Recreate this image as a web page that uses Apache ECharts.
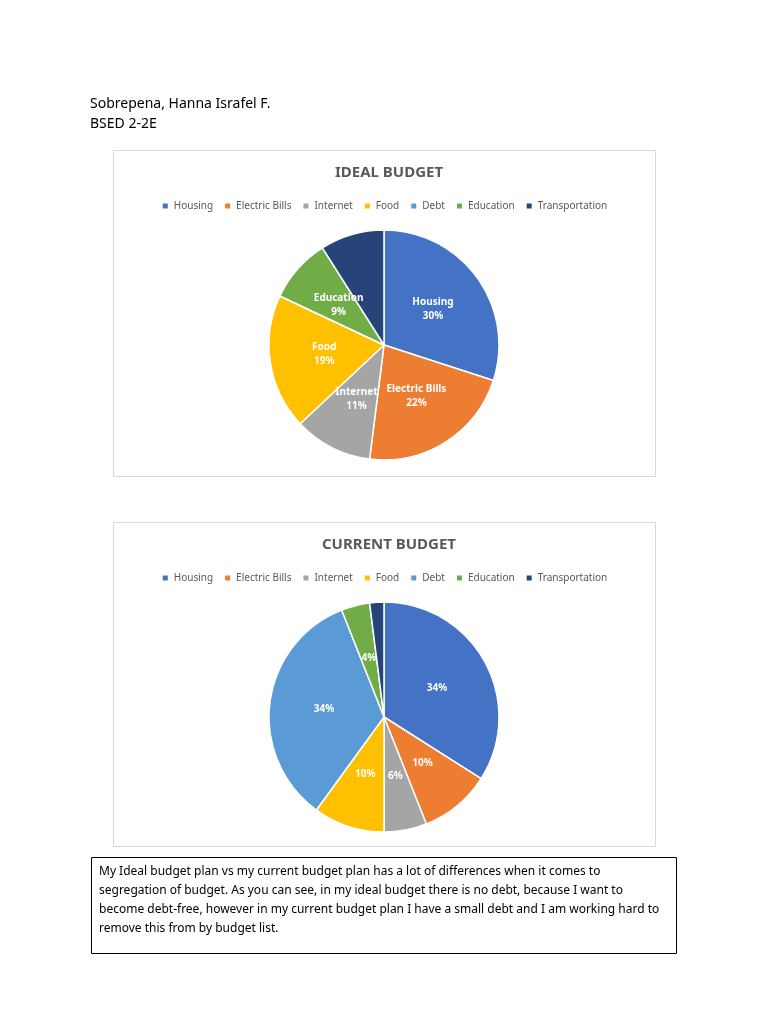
<!DOCTYPE html>
<html><head><meta charset="utf-8">
<script src="https://cdn.jsdelivr.net/npm/echarts@6/dist/echarts.min.js"></script>
<style>html,body{margin:0;padding:0;background:#fff}#c{width:768px;height:1024px}</style>
</head><body><div id="c"></div>
<script>
const categories = ['Housing','Electric Bills','Internet','Food','Debt','Education','Transportation'];
const idealValues = [30,22,11,19,0,9,9];
const currentValues = [34,10,6,10,34,4,2];
const colors = ['#4472C4','#ED7D31','#A5A5A5','#FFC000','#5B9BD5','#70AD47','#264478'];
const font = 'Noto Sans';
const chart = echarts.init(document.getElementById('c'));
function mk(vals){return categories.map((n,i)=>({name:n,value:vals[i]}));}
function legend(top){return {top:top,left:'center',data:categories,icon:'rect',itemWidth:7,itemHeight:7,itemGap:10,
  textStyle:{fontFamily:font,fontSize:10,color:'#595959'}};}
chart.setOption({
  color:colors,
  animation:false,
  title:[
    {text:'IDEAL BUDGET',left:384,top:160,textAlign:'center',textStyle:{fontFamily:font,fontSize:15,fontWeight:'bold',color:'#595959'}},
    {text:'CURRENT BUDGET',left:384,top:532,textAlign:'center',textStyle:{fontFamily:font,fontSize:15,fontWeight:'bold',color:'#595959'}}
  ],
  legend:[legend(196), Object.assign(legend(568),{})],
  graphic:[
    {type:'rect',shape:{x:113.5,y:150.5,width:542,height:326},style:{fill:'none',stroke:'#d9d9d9'}},
    {type:'rect',shape:{x:113.5,y:522.5,width:542,height:324},style:{fill:'none',stroke:'#d9d9d9'}},
    {type:'rect',shape:{x:91.5,y:857.5,width:585,height:96},style:{fill:'none',stroke:'#000'}},
    {type:'text',left:90,top:94,style:{text:'Sobrepena, Hanna Israfel F.\nBSED 2-2E',fontFamily:font,fontSize:14,lineHeight:20,fill:'#000'}},
    {type:'text',left:99,top:862,style:{text:'My Ideal budget plan vs my current budget plan has a lot of differences when it comes to\nsegregation of budget. As you can see, in my ideal budget there is no debt, because I want to\nbecome debt-free, however in my current budget plan I have a small debt and I am working hard to\nremove this from by budget list.',fontFamily:font,fontSize:12,lineHeight:19,fill:'#000'}}
  ],
  series:[
    {type:'pie',legendIndex:0,center:[384,345],radius:[0,115],startAngle:90,data:mk(idealValues),
     itemStyle:{borderColor:'#fff',borderWidth:1.5},
     label:{position:'inner',formatter:'{b}\n{d}%',fontFamily:font,fontSize:10,fontWeight:'bold',color:'#fff',lineHeight:14},
     minShowLabelAngle:0},
    {type:'pie',center:[384,717],radius:[0,115],startAngle:90,data:mk(currentValues),
     itemStyle:{borderColor:'#fff',borderWidth:1.5},
     label:{position:'inner',formatter:'{d}%',fontFamily:font,fontSize:10,fontWeight:'bold',color:'#fff'}}
  ]
});
</script></body></html>
